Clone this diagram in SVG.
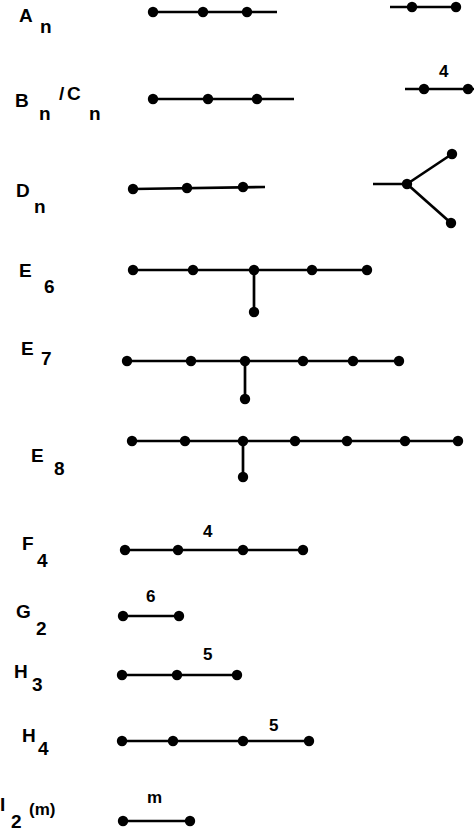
<svg xmlns="http://www.w3.org/2000/svg" width="474" height="832" viewBox="0 0 474 832">
<style>
.e{stroke:#000;stroke-width:2.7;fill:none}
.n{fill:#000}
.t{font-family:"Liberation Sans",Arial,sans-serif;font-weight:bold;fill:#000;font-size:19px}
.s{font-family:"Liberation Sans",Arial,sans-serif;font-weight:bold;fill:#000;font-size:19px}
.w{font-family:"Liberation Sans",Arial,sans-serif;font-weight:bold;fill:#000;font-size:17px}
</style>
<rect width="474" height="832" fill="#fff"/>
<g id="labels">
<text class="t" x="19" y="22">A</text><text class="s" x="40" y="33">n</text>
<text class="t" x="15" y="107">B</text><text class="s" x="39" y="120">n</text>
<text class="t" x="59" y="100">/</text>
<text class="t" x="67" y="100">C</text><text class="s" x="89" y="120">n</text>
<text class="t" x="16" y="197">D</text><text class="s" x="34" y="213">n</text>
<text class="t" x="19" y="277">E</text><text class="s" x="44" y="293">6</text>
<text class="t" x="21" y="355">E</text><text class="s" x="41" y="365">7</text>
<text class="t" x="31" y="462">E</text><text class="s" x="54" y="475">8</text>
<text class="t" x="22" y="550">F</text><text class="s" x="37" y="567">4</text>
<text class="t" x="16" y="618">G</text><text class="s" x="36" y="635">2</text>
<text class="t" x="14" y="678">H</text><text class="s" x="32" y="691">3</text>
<text class="t" x="22" y="742">H</text><text class="s" x="38" y="755">4</text>
<text class="t" x="0" y="811">I</text><text class="s" x="11" y="828">2</text>
<text class="w" x="29" y="815" font-size="19">(m)</text>
</g>
<g id="connectors">
<line class="e" x1="153" y1="12" x2="277" y2="12"/>
<line class="e" x1="390" y1="7" x2="456" y2="7"/>
<line class="e" x1="153" y1="99" x2="294" y2="99"/>
<line class="e" x1="405" y1="89" x2="474" y2="89"/>
<line class="e" x1="133" y1="189" x2="265" y2="187"/>
<line class="e" x1="373" y1="184" x2="407" y2="184"/>
<line class="e" x1="407" y1="184" x2="452" y2="154"/>
<line class="e" x1="407" y1="184" x2="451" y2="223"/>
<line class="e" x1="133" y1="270" x2="367" y2="270"/>
<line class="e" x1="254" y1="270" x2="254" y2="312"/>
<line class="e" x1="127" y1="361" x2="399" y2="361"/>
<line class="e" x1="245" y1="361" x2="245" y2="399"/>
<line class="e" x1="132" y1="441" x2="458" y2="441"/>
<line class="e" x1="243" y1="441" x2="243" y2="477"/>
<line class="e" x1="125" y1="550" x2="303" y2="550"/>
<line class="e" x1="123" y1="616" x2="179" y2="616"/>
<line class="e" x1="122" y1="675" x2="237" y2="675"/>
<line class="e" x1="122" y1="741" x2="309" y2="741"/>
<line class="e" x1="123" y1="821" x2="190" y2="821"/>
</g>
<g id="edge-labels">
<text class="w" x="439" y="77">4</text>
<text class="w" x="203" y="537">4</text>
<text class="w" x="146" y="602">6</text>
<text class="w" x="203" y="660">5</text>
<text class="w" x="269" y="731">5</text>
<text class="w" x="147" y="803">m</text>
</g>
<g id="nodes">
<g id="A"><circle class="n" cx="153" cy="12" r="5.2"/><circle class="n" cx="203" cy="12" r="5.2"/><circle class="n" cx="247" cy="12" r="5.2"/><circle class="n" cx="412" cy="7" r="5.2"/><circle class="n" cx="456" cy="7" r="5.2"/></g>
<g id="B"><circle class="n" cx="153" cy="99" r="5.2"/><circle class="n" cx="208" cy="99" r="5.2"/><circle class="n" cx="257" cy="99" r="5.2"/><circle class="n" cx="424" cy="89" r="5.2"/><circle class="n" cx="468" cy="89" r="5.2"/></g>
<g id="D"><circle class="n" cx="133" cy="189" r="5.2"/><circle class="n" cx="187" cy="188" r="5.2"/><circle class="n" cx="243" cy="187" r="5.2"/><circle class="n" cx="407" cy="184" r="5.2"/><circle class="n" cx="452" cy="154" r="5.2"/><circle class="n" cx="451" cy="223" r="5.2"/></g>
<g id="E6"><circle class="n" cx="133" cy="270" r="5.2"/><circle class="n" cx="193" cy="270" r="5.2"/><circle class="n" cx="254" cy="270" r="5.2"/><circle class="n" cx="312" cy="270" r="5.2"/><circle class="n" cx="367" cy="270" r="5.2"/><circle class="n" cx="254" cy="312" r="5.2"/></g>
<g id="E7"><circle class="n" cx="127" cy="361" r="5.2"/><circle class="n" cx="191" cy="361" r="5.2"/><circle class="n" cx="245" cy="361" r="5.2"/><circle class="n" cx="303" cy="361" r="5.2"/><circle class="n" cx="353" cy="361" r="5.2"/><circle class="n" cx="399" cy="361" r="5.2"/><circle class="n" cx="245" cy="399" r="5.2"/></g>
<g id="E8"><circle class="n" cx="132" cy="441" r="5.2"/><circle class="n" cx="185" cy="441" r="5.2"/><circle class="n" cx="243" cy="441" r="5.2"/><circle class="n" cx="295" cy="441" r="5.2"/><circle class="n" cx="347" cy="441" r="5.2"/><circle class="n" cx="405" cy="441" r="5.2"/><circle class="n" cx="458" cy="441" r="5.2"/><circle class="n" cx="243" cy="477" r="5.2"/></g>
<g id="F4"><circle class="n" cx="125" cy="550" r="5.2"/><circle class="n" cx="178" cy="550" r="5.2"/><circle class="n" cx="243" cy="550" r="5.2"/><circle class="n" cx="303" cy="550" r="5.2"/></g>
<g id="G2"><circle class="n" cx="123" cy="616" r="5.2"/><circle class="n" cx="179" cy="616" r="5.2"/></g>
<g id="H3"><circle class="n" cx="122" cy="675" r="5.2"/><circle class="n" cx="177" cy="675" r="5.2"/><circle class="n" cx="237" cy="675" r="5.2"/></g>
<g id="H4"><circle class="n" cx="122" cy="741" r="5.2"/><circle class="n" cx="173" cy="741" r="5.2"/><circle class="n" cx="243" cy="741" r="5.2"/><circle class="n" cx="309" cy="741" r="5.2"/></g>
<g id="I2"><circle class="n" cx="123" cy="821" r="5.2"/><circle class="n" cx="190" cy="821" r="5.2"/></g>
</g>
</svg>
